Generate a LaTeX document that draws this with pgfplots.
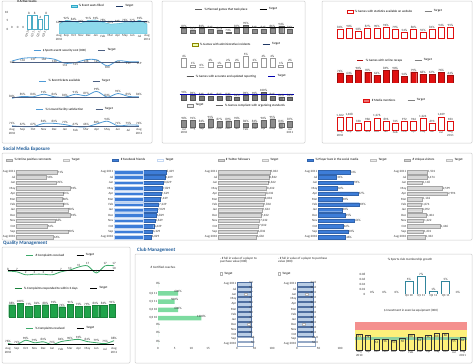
\documentclass[border=0pt]{standalone}
\usepackage{fontspec}
\setmainfont{Carlito}
\usepackage{pgfplots}
\pgfplotsset{compat=1.18}
\newcommand\tf{\fontsize{3.2}{3.6}\selectfont}
\newcommand\hf{\fontsize{5}{6}\selectfont\bfseries}
\definecolor{hdr}{HTML}{1F5C99}
\definecolor{cyfill}{HTML}{8DD9EB}
\definecolor{cyline}{HTML}{31A9C9}
\definecolor{actblue}{HTML}{4BACC6}
\definecolor{lblue}{HTML}{4F9AD6}
\definecolor{navy}{HTML}{1F3864}
\definecolor{gbar}{HTML}{8C8C8C}
\definecolor{dgbar}{HTML}{777777}
\definecolor{rbar}{HTML}{E01010}
\definecolor{fbblue}{HTML}{3D7DD8}
\definecolor{lgbar}{HTML}{D6D6D6}
\definecolor{lgline}{HTML}{A6A6A6}
\definecolor{qgreen}{HTML}{1FA34A}
\definecolor{qline}{HTML}{3DAA6A}
\definecolor{cgreen}{HTML}{7DDBA0}
\definecolor{lbbar}{HTML}{B9CDE5}
\definecolor{lbline}{HTML}{4F6FA0}
\definecolor{teal}{HTML}{31859C}
\definecolor{bred}{HTML}{F4908E}
\definecolor{byel}{HTML}{FDF07A}
\definecolor{bgrn}{HTML}{8FD19E}
\pgfplotsset{
  base/.style={scale only axis, anchor=north west,
    axis line style={draw=none}, tick style={draw=none},
    xtick=\empty, ytick=\empty,
    tick label style={font=\tf, inner sep=0.6pt, text=black!80},
    every node near coord/.append style={font=\tf, inner sep=0.5pt, text=black!80},
    /pgf/number format/assume math mode=true,
    legend style={draw=none, fill=none, font=\tf, legend columns=-1, at={(0.5,1)}, anchor=south,
      inner sep=0pt, outer sep=0pt, /tikz/every even column/.append style={column sep=10pt}},
    legend cell align=left,
    title style={font=\tf, inner sep=0pt, text=black!85},
  },
  L/.style={legend image code/.code={\draw[##1, line width=0.6pt] (0pt,0pt) -- (7pt,0pt);}},
  B/.style={legend image code/.code={\draw[##1, line width=0.3pt] (0pt,-1.1pt) rectangle (6pt,1.1pt);}},
  pct/.style={nodes near coords={\pgfmathprintnumber{\pgfplotspointmeta}\%}},
  sym/.style={point meta=explicit symbolic, nodes near coords={\pgfplotspointmeta}},
  monA/.style={xtick={0,...,12}, xticklabels={{Aug\\2010},Sep,Oct,Nov,Dec,Jan,Feb,Mar,Apr,May,Jun,Jul,{Aug\\2011}},
    xticklabel style={align=center, font=\tf, inner sep=0.6pt}},
  monB/.style={xtick={0,...,12}, xticklabels={{Jul\\2010},Aug,Sep,Oct,Nov,Dec,Jan,Feb,Mar,Apr,May,Jun,{Jul\\2011}},
    xticklabel style={align=center, font=\tf, inner sep=0.6pt}},
  hb/.style={ymin=-0.5, ymax=12.5, ytick={0,...,12},
    yticklabels={Aug 2010,Sep,Oct,Nov,Dec,Jan,Feb,Mar,Apr,May,Jun,Jul,Aug 2011}},
  hbar/.style={xbar, bar shift=0pt, bar width=3.6pt, point meta=x},
  vbar/.style={ybar, bar shift=0pt, bar width=#1},
}
\begin{document}
\begin{tikzpicture}
\useasboundingbox (0,0) rectangle (474pt,-364pt);
\fill[white] (0,0) rectangle (474pt,-364pt);
% panels
\draw[gray!40, line width=0.5pt, rounded corners=1pt] (2pt,-1pt) rectangle (152pt,-143pt);
\draw[gray!40, line width=0.5pt, rounded corners=1pt] (162pt,-1pt) rectangle (305pt,-143pt);
\draw[gray!40, line width=0.5pt, rounded corners=1pt] (322pt,-1pt) rectangle (472pt,-143pt);
\draw[gray!40, line width=0.5pt, rounded corners=1pt] (2pt,-153pt) rectangle (472pt,-240pt);
\draw[gray!40, line width=0.5pt, rounded corners=1pt] (2pt,-247pt) rectangle (130pt,-363pt);
\draw[gray!40, line width=0.5pt, rounded corners=1pt] (135pt,-254pt) rectangle (472pt,-363pt);
\node[anchor=west, font=\hf, text=hdr, inner sep=0pt] at (3pt,-149pt) {Social Media Exposure};
\node[anchor=west, font=\hf, text=hdr, inner sep=0pt] at (3pt,-243.5pt) {Quality Management};
\node[anchor=west, font=\hf, text=hdr, inner sep=0pt] at (137pt,-250.5pt) {Club Management};

% ---------- Panel 1 ----------
\begin{axis}[base, at={(9pt,-12pt)}, width=40pt, height=17pt, xmin=-0.5, xmax=6.5, ymin=0, ymax=10,
  ytick={0,5,10}, xtick={3,4,5,6}, xticklabels={Q4 10,Q1 11,Q2 11,Q3 11},
  xticklabel style={rotate=70, anchor=east, font=\tf},
  title={\bfseries\# Active teams}, title style={at={(0.45,1)}, anchor=south, yshift=3.5pt}]
\addplot[vbar=4.3pt, draw=none, fill=none, nodes near coords] coordinates {(0,0)(1,0)(2,0)};
\addplot[vbar=4.3pt, draw=actblue, fill=white, line width=0.5pt, nodes near coords] coordinates {(3,8)(4,8)(5,6)(6,8)};
\end{axis}

\begin{axis}[base, at={(59pt,-19pt)}, width=88pt, height=15pt, xmin=0, xmax=12, ymin=0, ymax=100, monA,
  legend style={yshift=9pt}]
\addplot[fill=cyfill, draw=cyline, line width=0.3pt, B, pct] coordinates
 {(0,66)(1,92)(2,84)(3,71)(4,91)(5,94)(6,78)(7,66)(8,69)(9,76)(10,77)(11,92)(12,67)} \closedcycle;
\addlegendentry{\% Event seats filled}
\addplot[navy, line width=0.5pt, L] coordinates {(0,88)(12,88)};
\addlegendentry{Target}
\end{axis}

\begin{axis}[base, at={(12pt,-57pt)}, width=127pt, height=10pt, xmin=0, xmax=12, ymin=95, ymax=140,
  legend style={yshift=2.5pt}]
\addplot[lblue, line width=0.8pt, smooth, L, nodes near coords, every node near coord/.append style={anchor=north}] coordinates
 {(0,122)(1,134)(2,137)(3,136)(4,130)(5,112)(6,115)(7,128)(8,127)(9,100)(10,123)(11,119)(12,119)};
\addlegendentry{\$ Sports event security cost (000)}
\addplot[navy!80, line width=0.4pt, L] coordinates {(0,118)(12,118)};
\addlegendentry{Target}
\end{axis}

\begin{axis}[base, at={(12pt,-91pt)}, width=127pt, height=9pt, xmin=0, xmax=12, ymin=75, ymax=100,
  legend style={yshift=6pt}]
\addplot[lblue, line width=0.8pt, smooth, L, pct] coordinates
 {(0,80)(1,85)(2,84)(3,91)(4,84)(5,83)(6,91)(7,87)(8,99)(9,83)(10,93)(11,85)(12,84)};
\addlegendentry{\% Event tickets available}
\addplot[navy!80, line width=0.4pt, L] coordinates {(0,82)(12,82)};
\addlegendentry{Target}
\end{axis}

\begin{axis}[base, at={(12pt,-120pt)}, width=127pt, height=8pt, xmin=0, xmax=12, ymin=60, ymax=100, monA,
  legend style={yshift=6.5pt}]
\addplot[lblue, line width=0.8pt, smooth, L, pct] coordinates
 {(0,71)(1,67)(2,67)(3,83)(4,83)(5,77)(6,67)(7,66)(8,80)(9,94)(10,71)(11,75)(12,74)};
\addlegendentry{\% Ground facility satisfaction}
\addplot[navy!80, line width=0.4pt, L] coordinates {(0,70)(12,70)};
\addlegendentry{Target}
\end{axis}

% ---------- Panel 2 ----------
\begin{axis}[base, at={(179.6pt,-24pt)}, width=114.8pt, height=9pt, xmin=-0.5, xmax=12.5, ymin=70, ymax=100,
  legend style={yshift=10.5pt}]
\addplot[vbar=5pt, fill=gbar, draw=gbar!70!black, line width=0.2pt, L, pct] coordinates
 {(0,87)(1,81)(2,85)(3,83)(4,81)(5,73)(6,87)(7,95)(8,83)(9,84)(10,86)(11,94)(12,84)};
\addlegendentry{\% Planned games that took place}
\addplot[black, line width=0.4pt, L] coordinates {(-0.5,90)(12.5,90)};
\addlegendentry{Target}
\end{axis}

\begin{axis}[base, at={(179.6pt,-53pt)}, width=114.8pt, height=14pt, xmin=-0.5, xmax=12.5, ymin=0, ymax=6.5,
  legend style={yshift=4.5pt}]
\addlegendimage{B, fill=lime!30, draw=olive}
\addlegendentry{\% Games with administrative incidents}
\addlegendimage{L, navy}
\addlegendentry{Target}
\addplot[vbar=5pt, fill=white, draw=gray!80, line width=0.4pt, pct] coordinates
 {(0,4)(1,1)(2,0)(3,2)(4,1)(5,2)(6,2)(7,5)(8,2)(9,4)(10,4)(11,1)(12,2)};
\end{axis}

\begin{axis}[base, at={(179.6pt,-91pt)}, width=114.8pt, height=9pt, xmin=-0.5, xmax=12.5, ymin=70, ymax=105,
  legend style={yshift=10.5pt}]
\addplot[vbar=5pt, fill=dgbar, draw=dgbar!70!black, line width=0.2pt, L, pct] coordinates
 {(0,93)(1,89)(2,87)(3,84)(4,84)(5,87)(6,82)(7,89)(8,90)(9,100)(10,84)(11,82)(12,82)};
\addlegendentry{\% Games with accurate and updated reporting}
\addplot[blue!70!black, line width=0.6pt, L] coordinates {(-0.5,93)(12.5,93)};
\addlegendentry{Target}
\end{axis}

\begin{axis}[base, at={(179.6pt,-117pt)}, width=114.8pt, height=10pt, xmin=-0.5, xmax=12.5, ymin=70, ymax=100, monB,
  legend style={yshift=7.5pt}]
\addlegendimage{B, fill=gray!15, draw=gray}
\addlegendentry{Target}
\addplot[vbar=5pt, fill=gbar, draw=gbar!70!black, line width=0.2pt, L, pct] coordinates
 {(0,90)(1,91)(2,82)(3,95)(4,87)(5,89)(6,90)(7,82)(8,83)(9,90)(10,95)(11,83)(12,87)};
\addlegendentry{\% Games compliant with organizing standards}
\end{axis}

% ---------- Panel 3 ----------
\begin{axis}[base, at={(335.4pt,-27pt)}, width=119.6pt, height=11pt, xmin=-0.5, xmax=12.5, ymin=0, ymax=100,
  legend style={yshift=11.5pt}]
\addplot[vbar=6pt, fill=white, draw=rbar, line width=0.6pt, B, pct] coordinates
 {(0,83)(1,90)(2,58)(3,87)(4,90)(5,94)(6,79)(7,54)(8,80)(9,55)(10,81)(11,94)(12,95)};
\addlegendentry{\% Games with statistics available on website}
\addlegendimage{L, gray}
\addlegendentry{Target}
\end{axis}

\begin{axis}[base, at={(335.4pt,-69pt)}, width=119.6pt, height=14pt, xmin=-0.5, xmax=12.5, ymin=20, ymax=95,
  legend style={yshift=4.5pt}]
\addplot[vbar=6pt, fill=rbar, draw=rbar!70!black, line width=0.2pt, legend image code/.code={\draw[rbar!80!black, line width=1.2pt] (0pt,0pt) -- (6pt,0pt);}, pct] coordinates
 {(0,74)(1,63)(2,90)(3,78)(4,62)(5,89)(6,90)(7,56)(8,79)(9,68)(10,67)(11,76)(12,64)};
\addlegendentry{\% Games with online recaps}
\addlegendimage{L, gray}
\addlegendentry{Target}
\end{axis}

\begin{axis}[base, at={(335.4pt,-116pt)}, width=119.6pt, height=14pt, xmin=-0.5, xmax=12.5, ymin=0, ymax=1500, monA,
  legend style={yshift=11.5pt}]
\addplot[vbar=6pt, fill=white, draw=rbar, line width=0.6pt, legend image code/.code={\draw[draw=rbar, fill=rbar!60, line width=0.3pt] (0pt,-1.1pt) rectangle (6pt,1.1pt);}, nodes near coords] coordinates
 {(0,1322)(1,1408)(2,760)(3,960)(4,1276)(5,896)(6,745)(7,972)(8,944)(9,1224)(10,693)(11,1409)(12,963)};
\addlegendentry{\# Media mentions}
\addlegendimage{L, gray}
\addlegendentry{Target}
\end{axis}

% ---------- Social media ----------
\begin{axis}[base, hb, at={(16pt,-169.3pt)}, width=56pt, height=70.4pt, xmin=0, xmax=97, legend style={yshift=5pt}]
\addplot[hbar, fill=lgbar, draw=lgline, line width=0.3pt, B, pct] coordinates
 {(71,12)(53,11)(70,10)(94,9)(81,8)(80,7)(81,6)(90,5)(94,4)(68,3)(54,2)(90,1)(65,0)};
\addlegendentry{\% Online positive comments}
\addlegendimage{B, fill=gray!15, draw=gray!50}
\addlegendentry{Target}
\end{axis}

\begin{axis}[base, hb, at={(114pt,-169.3pt)}, width=60pt, height=70.4pt, xmin=0, xmax=9725, legend style={yshift=5pt}]
\addplot[hbar, fill=fbblue, draw=fbblue!80!black, line width=0.3pt, B, nodes near coords] coordinates
 {(8429,12)(8229,11)(8029,10)(7829,9)(7629,8)(7429,7)(7229,6)(7029,5)(6829,4)(6629,3)(6429,2)(6229,1)(6029,0)};
\addlegendentry{\# Facebook friends}
\addplot[hbar, fill=none, draw=white!70!fbblue, line width=0.3pt, B] coordinates
 {(4700,12)(4700,11)(4700,10)(4700,9)(4700,8)(4700,7)(4700,6)(4700,5)(4700,4)(4700,3)(4700,2)(4700,1)(4700,0)};
\addlegendentry{Target}
\end{axis}

\begin{axis}[base, hb, at={(218pt,-169.3pt)}, width=62pt, height=70.4pt, xmin=0, xmax=10770, legend style={yshift=5pt}]
\addplot[hbar, fill=lgbar, draw=lgline, line width=0.3pt, B, nodes near coords] coordinates
 {(9032,12)(8832,11)(8632,10)(8432,9)(8232,8)(8032,7)(7832,6)(7632,5)(7432,4)(7232,3)(7032,2)(6832,1)(6632,0)};
\addlegendentry{\# Twitter followers}
\addlegendimage{B, fill=gray!15, draw=gray!50}
\addlegendentry{Target}
\end{axis}

\begin{axis}[base, hb, at={(318pt,-169.3pt)}, width=60pt, height=70.4pt, xmin=0, xmax=100, legend style={yshift=5pt}]
\addplot[hbar, fill=fbblue, draw=fbblue!80!black, line width=0.3pt, B, pct] coordinates
 {(53,12)(31,11)(59,10)(32,9)(67,8)(40,7)(69,6)(40,5)(45,4)(61,3)(42,2)(50,1)(46,0)};
\addlegendentry{\% Player buzz in the social media}
\addlegendimage{B, fill=gray!15, draw=gray!50}
\addlegendentry{Target}
\end{axis}

\begin{axis}[base, hb, at={(407pt,-169.3pt)}, width=55pt, height=70.4pt, xmin=0, xmax=4070, legend style={yshift=5pt}]
\addplot[hbar, fill=lgbar, draw=lgline, line width=0.3pt, B, nodes near coords] coordinates
 {(1501,12)(1474,11)(1118,10)(2599,9)(2994,8)(1132,7)(1074,6)(1092,5)(1404,4)(1222,3)(2446,2)(1201,1)(1332,0)};
\addlegendentry{\# Unique visitors}
\addlegendimage{B, fill=gray!15, draw=gray!50}
\addlegendentry{Target}
\end{axis}

% ---------- Quality ----------
\begin{axis}[base, at={(8pt,-264pt)}, width=106pt, height=12pt, xmin=0, xmax=12, ymin=0, ymax=20,
  legend style={yshift=4.5pt}]
\addplot[qline, line width=0.8pt, smooth, L, nodes near coords] coordinates
 {(0,8)(1,7)(2,2)(3,3)(4,3)(5,2)(6,7)(7,10)(8,15)(9,17)(10,5)(11,17)(12,17)};
\addlegendentry{\# Complaints received}
\addplot[black, line width=0.4pt, L, sym] coordinates {(0,10)(12,10)[10]};
\addlegendentry{Target}
\end{axis}

\begin{axis}[base, at={(7.8pt,-303pt)}, width=108.4pt, height=14pt, xmin=-0.5, xmax=12.5, ymin=0, ymax=100,
  legend style={yshift=10.5pt}]
\addplot[vbar=6.5pt, fill=qgreen, draw=qgreen!80!black, line width=0.2pt, L, pct] coordinates
 {(0,88)(1,100)(2,77)(3,82)(4,88)(5,92)(6,74)(7,91)(8,75)(9,79)(10,83)(11,83)(12,91)};
\addlegendentry{\% Complaints responded to within 3 days}
\addlegendimage{L, black}
\addlegendentry{Target}
\end{axis}

\begin{axis}[base, at={(8pt,-338pt)}, width=106pt, height=9pt, xmin=0, xmax=12, ymin=60, ymax=100, monA,
  legend style={yshift=5.5pt}]
\addplot[qline, line width=0.8pt, smooth, L, pct] coordinates
 {(0,76)(1,71)(2,90)(3,79)(4,83)(5,71)(6,84)(7,90)(8,94)(9,84)(10,79)(11,75)(12,88)};
\addlegendentry{\% Complaints resolved}
\addplot[black, line width=0.4pt, L] coordinates {(0,74)(12,74)};
\addlegendentry{Target}
\end{axis}

% ---------- Club ----------
\begin{axis}[base, at={(158pt,-281pt)}, width=50pt, height=66pt, xmin=0, xmax=15, ymin=-0.5, ymax=7.5,
  xtick={0,5,10,15}, ytick={0,...,7}, yticklabels={,,,Q3 10,Q4 10,Q1 11,Q2 11,},
  title={\# Certified coaches}, title style={at={(0.1,1)}, anchor=south, yshift=6pt}]
\addplot[xbar, bar shift=0pt, bar width=4.5pt, fill=cgreen, draw=none, sym] coordinates
 {(0,7)[0\%] (6,6)[600\%] (5,5)[500\%] (6,4)[600\%] (13,3)[1300\%] (0,2)[0\%] (0,1)[0\%] (0,0)[0\%]};
\end{axis}

\begin{axis}[base, hb, at={(237pt,-281.5pt)}, width=35pt, height=65pt, xmin=0, xmax=100, xtick={0,50,100},
  title={- \# fall in value of a player to\\purchase value (000)},
  title style={at={(0,1)}, anchor=south west, xshift=-17pt, yshift=12pt, align=left},
  legend style={at={(0,1)}, anchor=south west, xshift=-17pt, yshift=4pt}]
\addplot[hbar, fill=lbbar, draw=lbline, line width=0.3pt, sym, forget plot] coordinates
 {(40,12)[54] (40,11)[56] (40,10)[47] (40,9)[37] (40,8)[54] (40,7)[29] (40,6)[50] (40,5)[37] (40,4)[40] (40,3)[36] (40,2)[35]};
\addplot[hbar, fill=white, draw=lbline!60, line width=0.3pt, sym, forget plot] coordinates
 {(45,1)[45] (45,0)[50]};
\addplot[only marks, mark=square*, mark size=1.2pt, mark options={fill=white, draw=gray!60}] coordinates {(25,10)(33,4)};
\addlegendentry{Target}
\end{axis}

\begin{axis}[base, hb, at={(297pt,-281.5pt)}, width=43pt, height=65pt, xmin=0, xmax=100, xtick={0,50,100},
  title={- \# fall in value of a player to purchase\\value (000)},
  title style={at={(0,1)}, anchor=south west, xshift=-19pt, yshift=12pt, align=left},
  legend style={at={(0,1)}, anchor=south west, xshift=-19pt, yshift=4pt}]
\addplot[hbar, fill=lbbar, draw=lbline, line width=0.3pt, sym, forget plot] coordinates
 {(38,12)[54.0] (38,11)[56.0] (38,10)[47.0] (38,9)[37.0] (38,8)[54.0] (38,7)[29.0] (38,6)[50.0] (38,5)[37.0] (38,4)[40.0] (38,3)[36.0] (38,2)[35.0]};
\addplot[hbar, fill=white, draw=lbline!60, line width=0.3pt, sym, forget plot] coordinates
 {(42,1)[45.0] (42,0)[50.0]};
\addplot[only marks, mark=square*, mark size=1.2pt, mark options={fill=white, draw=gray!60}] coordinates {(23,10)(16,4)};
\addlegendentry{Target}
\end{axis}

\begin{axis}[base, at={(366pt,-274pt)}, width=98pt, height=20pt, xmin=-0.5, xmax=7.5, ymin=0, ymax=0.08,
  ytick={0,0.02,0.04,0.06,0.08}, scaled y ticks=false,
  yticklabel style={/pgf/number format/fixed, /pgf/number format/precision=2},
  xtick={3,4,5,6}, xticklabels={Q4 10,Q1 11,Q2 11,Q3 11},
  title={\% Sports club membership growth}, title style={at={(0.45,1)}, anchor=south, yshift=7pt}]
\addplot[vbar=8pt, fill=none, draw=none, sym] coordinates {(0,0)[0\%] (1,0)[0\%] (2,0)[0\%] (7,0)[0\%]};
\addplot[vbar=8pt, fill=white, draw=teal, line width=0.6pt, sym] coordinates {(3,0.05)[5\%] (4,0.07)[7\%] (5,0.01)[1\%] (6,0.05)[5\%]};
\end{axis}

\begin{axis}[base, at={(355pt,-322pt)}, width=112pt, height=28pt, xmin=-0.5, xmax=12.5, ymin=0, ymax=140, monA,
  title={\$ Investment in exercise equipment (000)}, title style={at={(0.5,1)}, anchor=south, yshift=4pt}]
\addplot[fill=bred, draw=none] coordinates {(-0.5,140)(12.5,140)} \closedcycle;
\addplot[fill=byel, draw=none] coordinates {(-0.5,100)(12.5,100)} \closedcycle;
\addplot[fill=bgrn, draw=none] coordinates {(-0.5,65)(12.5,65)} \closedcycle;
\addplot[fill=byel, draw=none] coordinates {(-0.5,50)(12.5,50)} \closedcycle;
\addplot[vbar=5.5pt, fill=none, draw=black!80, line width=0.5pt, nodes near coords, every node near coord/.append style={anchor=north, yshift=-1pt}] coordinates
 {(0,81)(1,75)(2,54)(3,56)(4,50)(5,58)(6,80)(7,63)(8,75)(9,83)(10,86)(11,55)(12,63)};
\end{axis}
\end{tikzpicture}
\end{document}
